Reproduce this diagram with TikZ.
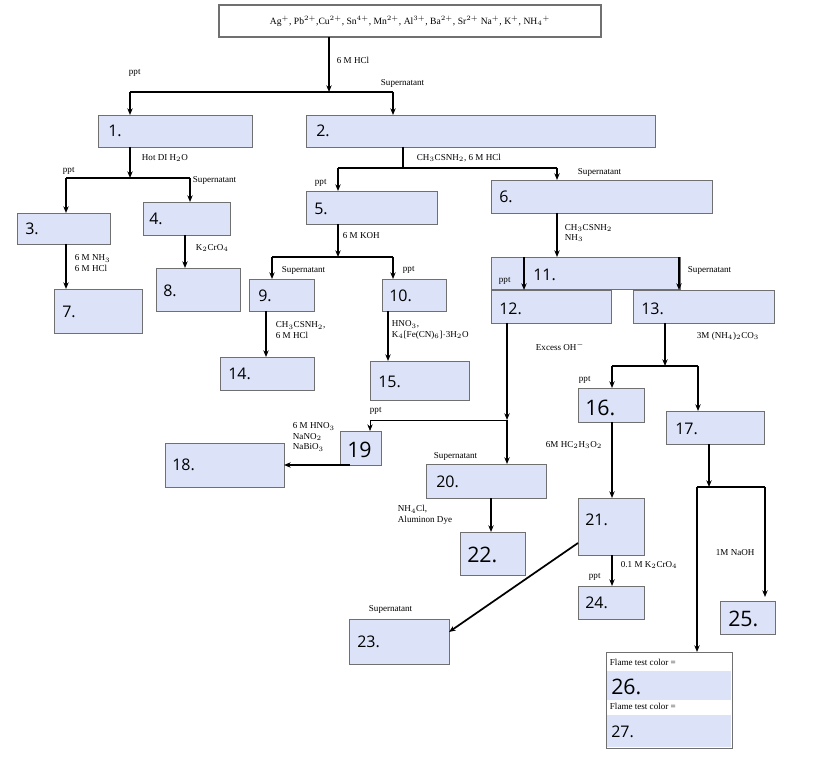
\documentclass[tikz,border=0pt]{standalone}
\usepackage{fontspec}
\setmainfont{Liberation Serif}
\newfontfamily\numf{Open Sans}
\usetikzlibrary{arrows.meta}
\definecolor{boxfill}{HTML}{DCE3F8}
\definecolor{boxline}{HTML}{707070}
\tikzset{
  box/.style={draw=boxline,fill=boxfill,line width=0.8pt,inner sep=0pt,anchor=north west},
  num/.style={font=\numf\fontsize{12}{12}\selectfont,anchor=west,inner sep=0pt},
  big/.style={font=\numf\fontsize{16}{16}\selectfont},
  lab/.style={font=\fontsize{6.8}{7.8}\selectfont,inner sep=0.5pt,align=left},
  con/.style={line width=0.8pt},
  arr/.style={line width=0.9pt,-{Stealth[length=5pt,width=4pt]}},
}
\newcommand\bx[5]{\node[box,minimum width={(#4-#2)*0.75pt},minimum height={(#5-#3)*0.75pt}] (#1) at (#2,#3) {};}
\begin{document}
\begin{tikzpicture}[x=0.75pt,y=-0.75pt]
\useasboundingbox (0,0) rectangle (831,762);
% boxes
\node[box,fill=white,minimum width={382*0.75pt},minimum height={32*0.75pt},font=\fontsize{7.2}{8}\selectfont,anchor=center] (top) at (410,21)
 {Ag$^{+}$, Pb$^{2+}$,Cu$^{2+}$, Sn$^{4+}$, Mn$^{2+}$, Al$^{3+}$, Ba$^{2+}$, Sr$^{2+}$ Na$^{+}$, K$^{+}$, NH$_4$$^{+}$};
\bx{b1}{98}{115}{252}{147}
\bx{b2}{306}{115}{655}{147}
\bx{b3}{17}{213}{110}{244}
\bx{b4}{143}{202}{230}{235}
\bx{b5}{306}{191}{437}{224}
\bx{b6}{491}{180}{712}{213}
\bx{b7}{54}{289}{142}{333}
\bx{b8}{156}{268}{240}{311}
\bx{b9}{249}{279}{314}{311}
\bx{b10}{382}{279}{446}{311}
\bx{b11}{491}{257}{680}{289}
\bx{b12}{491}{290}{611}{323}
\bx{b13}{633}{290}{774}{323}
\bx{b14}{220}{357}{314}{390}
\bx{b15}{370}{361}{469}{400}
\bx{b16}{578}{388}{644}{422}
\bx{b17}{666}{411}{764}{444}
\bx{b18}{165}{443}{284}{487}
\bx{b19}{340}{431}{381}{465}
\bx{b20}{426}{464}{546}{498}
\bx{b21}{578}{498}{644}{555}
\bx{b22}{460}{532}{525}{575}
\bx{b23}{349}{619}{449}{664}
\bx{b24}{578}{586}{644}{619}
\bx{b25}{720}{601}{775}{634}
\node[box,fill=white,minimum width={126*0.75pt},minimum height={96*0.75pt}] (b26) at (606,652) {};
\node[fill=boxfill,inner sep=0pt,anchor=north west,minimum width={124*0.75pt},minimum height={29*0.75pt}] (band26) at (607,671) {};
\node[fill=boxfill,inner sep=0pt,anchor=north west,minimum width={124*0.75pt},minimum height={32*0.75pt}] (band27) at (607,715) {};
% numbers
\node[num] (t1) at (108,131) {1.};
\node[num] (t2) at (316,131) {2.};
\node[num] (t3) at (25,229) {3.};
\node[num] (t4) at (149,219) {4.};
\node[num] (t5) at (314,209) {5.};
\node[num] (t6) at (499,197) {6.};
\node[num] (t7) at (62,312) {7.};
\node[num] (t8) at (163,291) {8.};
\node[num] (t9) at (258,296) {9.};
\node[num] (t10) at (389,296) {10.};
\node[num] (t11) at (533,275) {11.};
\node[num] (t12) at (499,309) {12.};
\node[num] (t13) at (641,309) {13.};
\node[num] (t14) at (228,374) {14.};
\node[num] (t15) at (378,382) {15.};
\node[num,big] (t16) at (585,408) {16.};
\node[num] (t17) at (675,429) {17.};
\node[num] (t18) at (172,465) {18.};
\node[num,big] (t19) at (347,450) {19};
\node[num] (t20) at (436,482) {20.};
\node[num] (t21) at (585,520) {21.};
\node[num,big] (t22) at (467,555) {22.};
\node[num] (t23) at (357,642) {23.};
\node[num] (t24) at (585,603) {24.};
\node[num,big] (t25) at (728,619) {25.};
\node[num,big] (t26) at (611,687) {26.};
\node[num] (t27) at (611,732) {27.};
\node[lab,anchor=west] (f1) at (609,662) {Flame test color =};
\node[lab,anchor=west] (f2) at (609,706) {Flame test color =};
% coordinates
\coordinate (a0) at (329,37); \coordinate (j0) at (329,92);
\coordinate (j0l) at (130,92); \coordinate (j0r) at (393,92);
\coordinate (e1) at (130,115); \coordinate (e2) at (393,115);
\coordinate (s1) at (130,147); \coordinate (j1) at (130,178);
\coordinate (j1l) at (66,178); \coordinate (j1r) at (190,178);
\coordinate (e3) at (66,213); \coordinate (e4) at (190,202);
\coordinate (s3) at (66,244); \coordinate (e7) at (66,289);
\coordinate (s4) at (185,235); \coordinate (e8) at (185,268);
\coordinate (s2) at (403,147); \coordinate (j2) at (403,168);
\coordinate (j2l) at (338,168); \coordinate (j2r) at (557,168);
\coordinate (e5) at (338,191); \coordinate (e6) at (557,180);
\coordinate (s5) at (338,224); \coordinate (j5) at (338,257);
\coordinate (j5l) at (272,257); \coordinate (j5r) at (393,257);
\coordinate (e9) at (272,279); \coordinate (e10) at (393,279);
\coordinate (s6) at (557,213); \coordinate (e11) at (557,257);
\coordinate (s11l) at (524,257); \coordinate (e12) at (524,290);
\coordinate (s11r) at (679,257); \coordinate (e13) at (679,290);
\coordinate (s9) at (266,311); \coordinate (e14) at (266,357);
\coordinate (s10) at (388,311); \coordinate (e15) at (388,361);
\coordinate (s12) at (507,323); \coordinate (j12) at (507,420);
\coordinate (j12l) at (370,420); \coordinate (e19) at (370,431);
\coordinate (e20) at (507,464);
\coordinate (s13) at (665,323); \coordinate (j13) at (665,366);
\coordinate (j13l) at (612,366); \coordinate (j13r) at (698,366);
\coordinate (e16) at (612,388); \coordinate (e17) at (698,411);
\coordinate (s19) at (350,465); \coordinate (e18) at (284,465);
\coordinate (s20) at (491,498); \coordinate (e22) at (491,532);
\coordinate (s16) at (612,422); \coordinate (e21) at (612,498);
\coordinate (s21) at (612,555); \coordinate (e24) at (612,586);
\coordinate (s21b) at (578,543); \coordinate (e23) at (449,632);
\coordinate (s17) at (709,444); \coordinate (j17) at (709,487);
\coordinate (j17l) at (697,487); \coordinate (j17r) at (765,487);
\coordinate (e26) at (697,652); \coordinate (e25) at (765,597);
% connectors
\draw[arr] (a0) -- (j0);
\draw[con] (j0l) -- (j0r);
\draw[arr] (j0l) -- (e1); \draw[arr] (j0r) -- (e2);
\draw[arr] (s1) -- (j1); \draw[con] (j1l) -- (j1r);
\draw[arr] (j1l) -- (e3); \draw[arr] (j1r) -- (e4);
\draw[arr] (s3) -- (e7); \draw[arr] (s4) -- (e8);
\draw[con] (s2) -- (j2); \draw[con] (j2l) -- (j2r);
\draw[arr] (j2l) -- (e5); \draw[arr] (j2r) -- (e6);
\draw[arr] (s5) -- (j5); \draw[con] (j5l) -- (j5r);
\draw[arr] (j5l) -- (e9); \draw[arr] (j5r) -- (e10);
\draw[arr] (s6) -- (e11);
\draw[arr] (s11l) -- (e12); \draw[arr] (s11r) -- (e13);
\draw[arr] (s9) -- (e14); \draw[arr] (s10) -- (e15);
\draw[arr] (s12) -- (j12); \draw[arr] (j12) -- (e20);
\draw[con,line width=0.5pt] (j12) -- (j12l); \draw[arr,line width=0.5pt] (j12l) -- (e19);
\draw[arr] (s13) -- (j13); \draw[con] (j13l) -- (j13r);
\draw[arr] (j13l) -- (e16); \draw[arr] (j13r) -- (e17);
\draw[arr,line width=1.3pt] (s19) -- (e18);
\draw[arr] (s20) -- (e22);
\draw[arr] (s16) -- (e21); \draw[arr] (s21) -- (e24);
\draw[arr,line width=1.3pt] (s21b) -- (e23);
\draw[arr] (s17) -- (j17); \draw[con] (j17l) -- (j17r);
\draw[arr] (j17l) -- (e26); \draw[arr] (j17r) -- (e25);
% labels
\node[lab,anchor=west] (l1) at (336,60) {6 M HCl};
\node[lab,anchor=west] (l2) at (128,73) {ppt};
\node[lab,anchor=west] (l3) at (380,83) {Supernatant};
\node[lab,anchor=west] (l4) at (141,158) {Hot DI H$_2$O};
\node[lab,anchor=west] (l5) at (62,171) {ppt};
\node[lab,anchor=west] (l6) at (192,180) {Supernatant};
\node[lab,anchor=west] (l7) at (74,263) {6 M NH$_3$\\6 M HCl};
\node[lab,anchor=west] (l8) at (195,248) {K$_2$CrO$_4$};
\node[lab,anchor=west] (l9) at (416,158) {CH$_3$CSNH$_2$, 6 M HCl};
\node[lab,anchor=west] (l10) at (314,183) {ppt};
\node[lab,anchor=west] (l11) at (577,172) {Supernatant};
\node[lab,anchor=west] (l12) at (342,236) {6 M KOH};
\node[lab,anchor=west] (l13) at (281,270) {Supernatant};
\node[lab,anchor=west] (l14) at (402,270) {ppt};
\node[lab,anchor=west] (l15) at (564,233) {CH$_3$CSNH$_2$\\NH$_3$};
\node[lab,anchor=west] (l16) at (498,281) {ppt};
\node[lab,anchor=west] (l17) at (687,270) {Supernatant};
\node[lab,anchor=west] (l18) at (275,330) {CH$_3$CSNH$_2$,\\6 M HCl};
\node[lab,anchor=west] (l19) at (391,330) {HNO$_3$,\\K$_4$[Fe(CN)$_6$]$\cdot$3H$_2$O};
\node[lab,anchor=west] (l20) at (535,346) {Excess OH$^{-}$};
\node[lab,anchor=west] (l21) at (696,336) {3M (NH$_4$)$_2$CO$_3$};
\node[lab,anchor=west] (l22) at (578,380) {ppt};
\node[lab,anchor=west] (l23) at (369,411) {ppt};
\node[lab,anchor=west] (l24) at (292,437) {6 M HNO$_3$\\NaNO$_2$\\NaBiO$_3$};
\node[lab,anchor=west] (l25) at (433,456) {Supernatant};
\node[lab,anchor=west] (l26) at (397,515) {NH$_4$Cl,\\Aluminon Dye};
\node[lab,anchor=west] (l27) at (545,445) {6M HC$_2$H$_3$O$_2$};
\node[lab,anchor=west] (l28) at (620,565) {0.1 M K$_2$CrO$_4$};
\node[lab,anchor=west] (l29) at (588,577) {ppt};
\node[lab,anchor=west] (l30) at (368,609) {Supernatant};
\node[lab,anchor=west] (l31) at (715,553) {1M NaOH};
\end{tikzpicture}
\end{document}
